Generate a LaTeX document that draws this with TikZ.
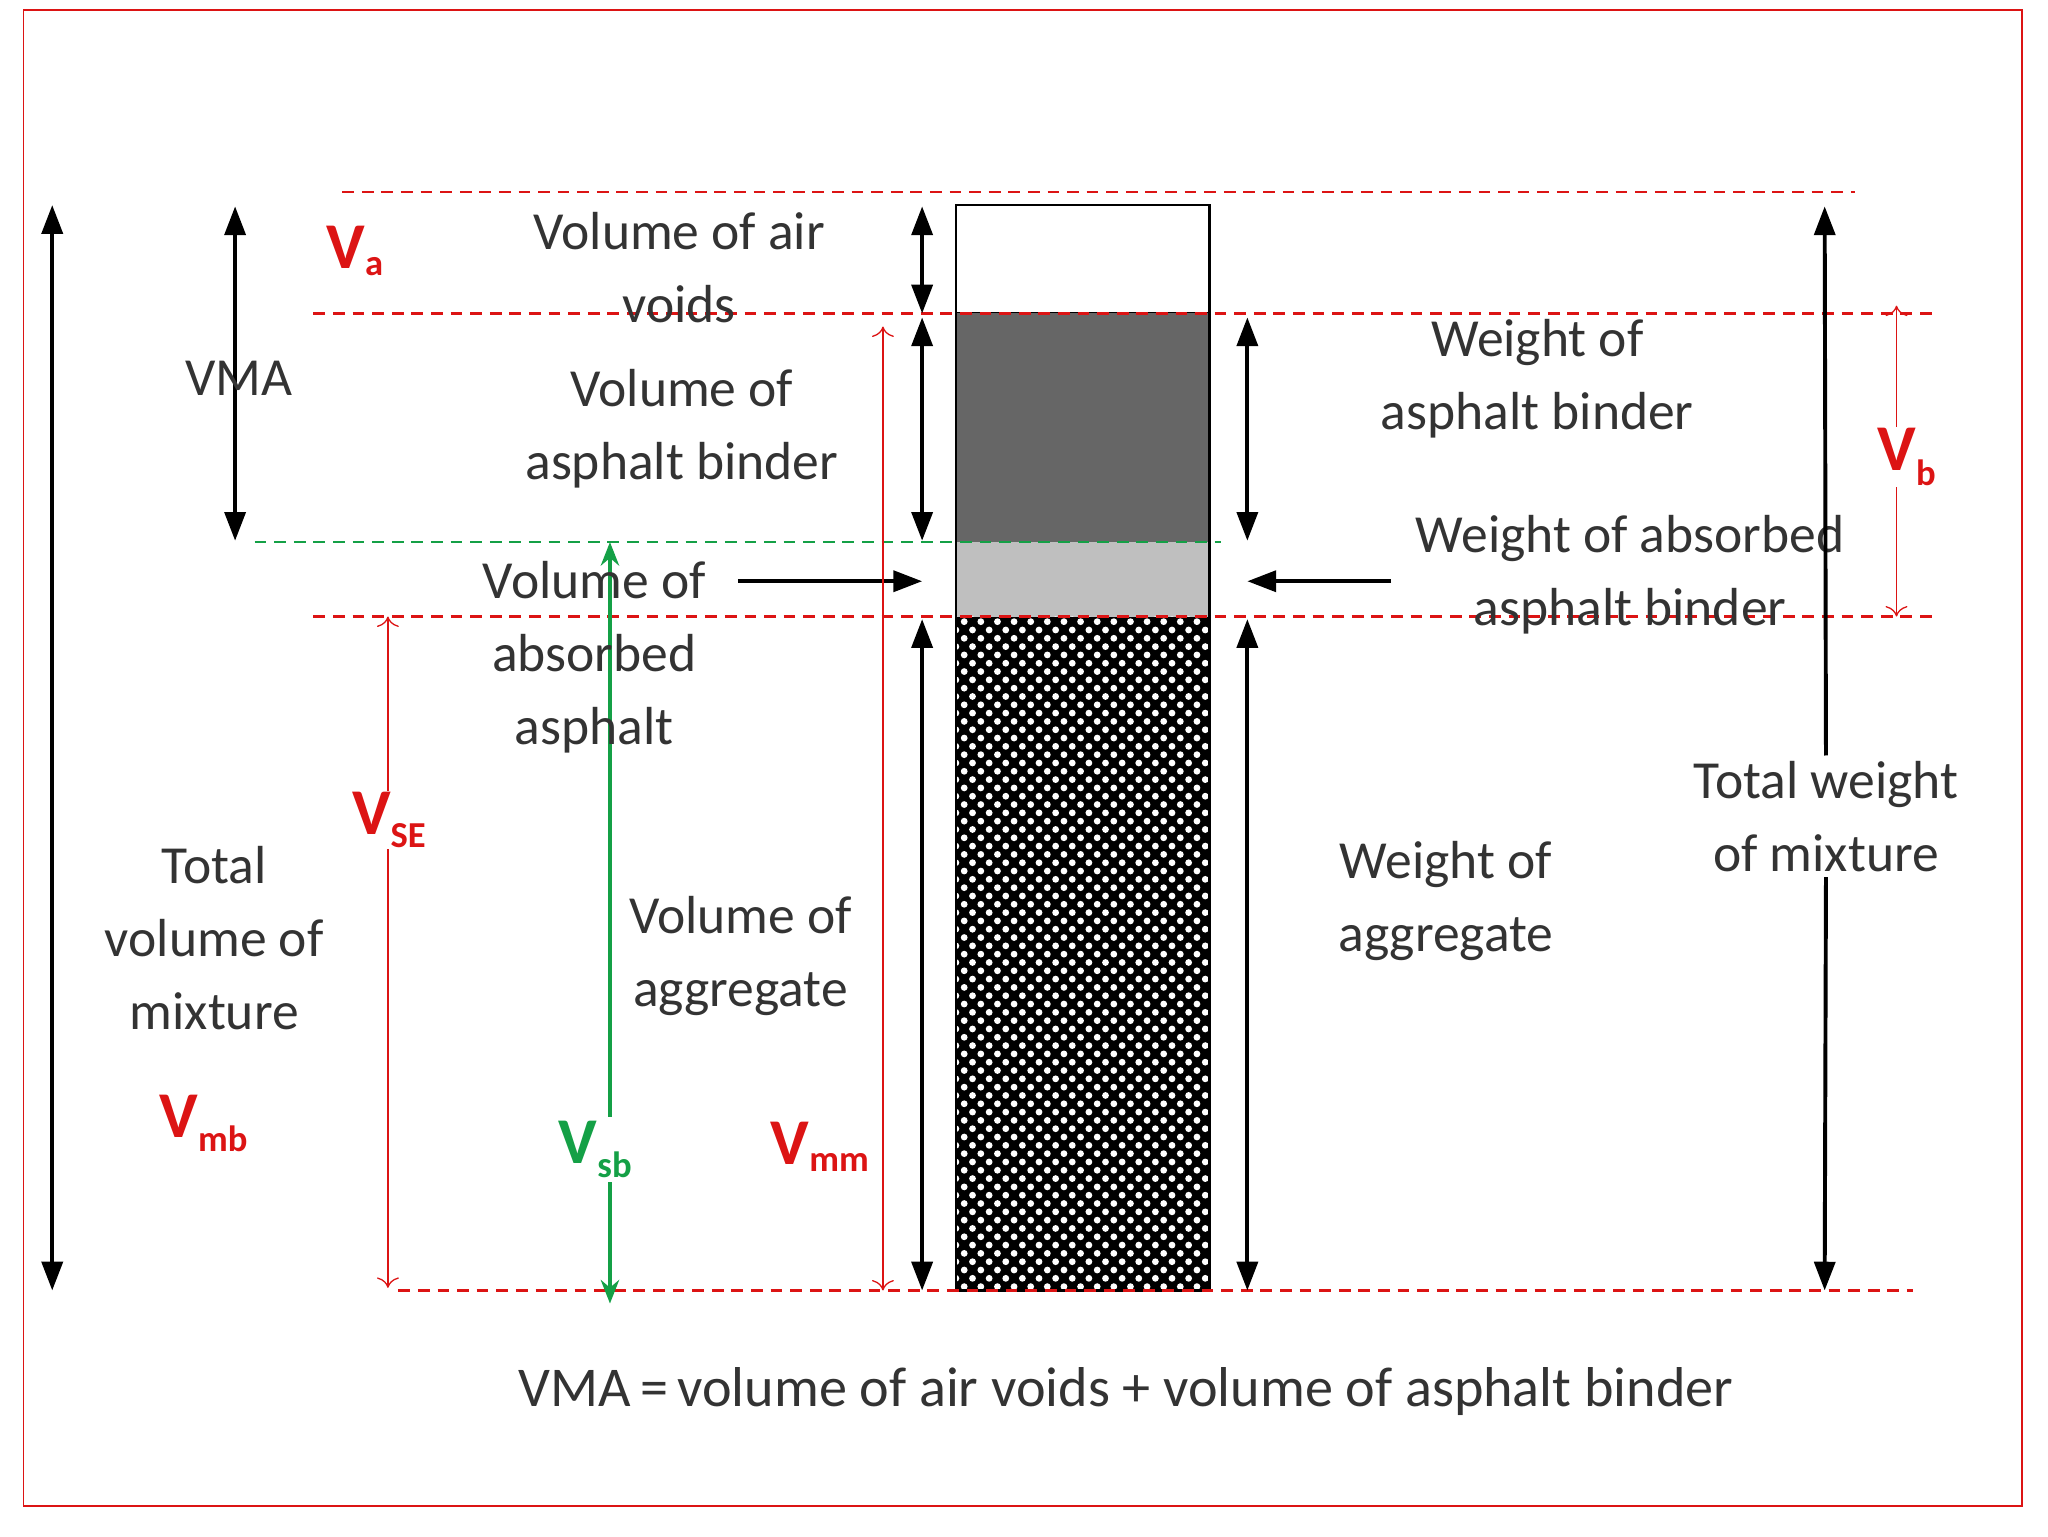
\documentclass[tikz,border=0pt]{standalone}
\usepackage{fontspec}
\setmainfont{Carlito}
\usetikzlibrary{arrows.meta,patterns.meta}
\definecolor{rd}{RGB}{220,20,20}
\definecolor{gn}{RGB}{20,160,70}
\begin{document}
\begin{tikzpicture}[x=1pt,y=-1pt,
 txt/.style={font=\fontsize{41}{56}\selectfont,align=center,text=black!80},
 sym/.style={font=\fontsize{50}{52}\selectfont\bfseries,text=rd},
 rdash/.style={rd,dashed,line width=2pt,dash pattern=on 9pt off 6pt},
 blk/.style={line width=3pt,{Triangle[length=22pt,width=16pt]}-{Triangle[length=22pt,width=16pt]}},
 blkone/.style={line width=3pt,-{Triangle[length=22pt,width=16pt]}},
 thin/.style={rd,line width=1pt,{To[length=8pt]}-{To[length=8pt]}}]
\useasboundingbox (0,0) rectangle (1568,1176);
\draw[rd,line width=1.5pt] (18,8) rectangle (1548,1153);
% column
\draw[line width=2pt,fill=white] (732,157) rectangle (926,240);
\fill[black!60] (732,240) rectangle (926,415);
\fill[black!25] (732,415) rectangle (926,472);
\fill[black] (732,472) rectangle (926,988);
\fill[pattern={Dots[distance=9pt,radius=2.6pt,angle=45]},pattern color=white] (732,472) rectangle (926,988);
\draw[line width=2pt] (732,157) rectangle (926,988);
% dashed lines
\coordinate (d1a) at (262,147); \coordinate (d1b) at (1420,147);
\coordinate (d2a) at (240,240); \coordinate (d2b) at (1480,240);
\coordinate (d3a) at (240,472); \coordinate (d3b) at (1480,472);
\coordinate (d4a) at (305,988); \coordinate (d4b) at (1465,988);
\coordinate (g1) at (195,415); \coordinate (g2) at (935,415);
\draw[rdash] (d1a)--(d1b); \draw[rdash] (d2a)--(d2b);
\draw[rdash] (d3a)--(d3b); \draw[rdash] (d4a)--(d4b);
\draw[gn,dashed,line width=2pt,dash pattern=on 9pt off 6pt] (g1)--(g2);
% black arrows
\coordinate (a1) at (40,157); \coordinate (a2) at (40,988);
\draw[blk] (a1)--(a2);
\coordinate (m1) at (180,158); \coordinate (m2) at (180,414);
\draw[blk] (m1)--(m2);
\coordinate (c1) at (706,158); \coordinate (c2) at (706,240);
\coordinate (c3) at (706,243); \coordinate (c4) at (706,414);
\coordinate (c5) at (706,474); \coordinate (c6) at (706,988);
\draw[blk] (c1)--(c2); \draw[blk] (c3)--(c4); \draw[blk] (c5)--(c6);
\coordinate (e3) at (955,243); \coordinate (e4) at (955,414);
\coordinate (e5) at (955,474); \coordinate (e6) at (955,988);
\draw[blk] (e3)--(e4); \draw[blk] (e5)--(e6);
\coordinate (h1) at (565,445); \coordinate (h2) at (706,445);
\coordinate (h3) at (1065,445); \coordinate (h4) at (955,445);
\draw[blkone] (h1)--(h2); \draw[blkone] (h3)--(h4);
% red thin
\coordinate (vm1) at (676,250); \coordinate (vm2) at (676,988);
\draw[thin] (vm1)--(vm2);
\coordinate (s1) at (297,472); \coordinate (s2) at (297,986);
\draw[thin] (s1)--(s2);
\coordinate (b1) at (1452,234); \coordinate (b2) at (1452,472);
\draw[thin] (b1)--(b2);
% green
\coordinate (gs1) at (467,415); \coordinate (gs2) at (467,998);
\draw[gn,line width=3pt,{Stealth[length=18pt,width=14pt]}-{Stealth[length=18pt,width=14pt]}] (gs1)--(gs2);
% texts
\node[txt] (tair) at (520,205) {Volume of air\\voids};
\node[txt] (tbind) at (522,328) {Volume of\\asphalt binder};
\node[txt] (tabs) at (455,503) {Volume of\\absorbed\\asphalt};
\node[txt] (tagg) at (567,732) {Volume of\\aggregate};
\node[txt] (ttot) at (164,718) {Total\\volume of\\mixture};
\node[txt] (tvma) at (183,290) {VMA};
\node[txt] (twb) at (1177,290) {Weight of\\asphalt binder};
\node[txt] (twab) at (1248,440) {Weight of absorbed\\asphalt binder};
\node[txt] (twag) at (1107,690) {Weight of\\aggregate};
\node[txt,fill=white,inner ysep=4pt] (twm) at (1398,625) {Total weight\\of mixture};
\node[txt,font=\fontsize{43}{50}\selectfont] (eq) at (862,1065) {VMA\,=\,volume of air voids + volume of asphalt binder};
\draw[blkone] (twm.north)--(1397,158);
\draw[blkone] (twm.south)--(1397,988);
% symbols
\node[sym] (va) at (272,192) {V\textsubscript{\fontsize{28}{30}\selectfont a}};
\node[sym,fill=white,inner sep=1pt] (vb) at (1460,350) {V\textsubscript{\fontsize{28}{30}\selectfont b}};
\node[sym,fill=white,inner sep=1pt] (vse) at (298,628) {V\textsubscript{\fontsize{28}{30}\selectfont SE}};
\node[sym] (vmb) at (156,860) {V\textsubscript{\fontsize{28}{30}\selectfont mb}};
\node[sym,fill=white] (vmm) at (628,878) {V\textsubscript{\fontsize{28}{30}\selectfont mm}};
\node[sym,text=gn,fill=white] (vsb) at (456,880) {V\textsubscript{\fontsize{28}{30}\selectfont sb}};
\end{tikzpicture}
\end{document}
